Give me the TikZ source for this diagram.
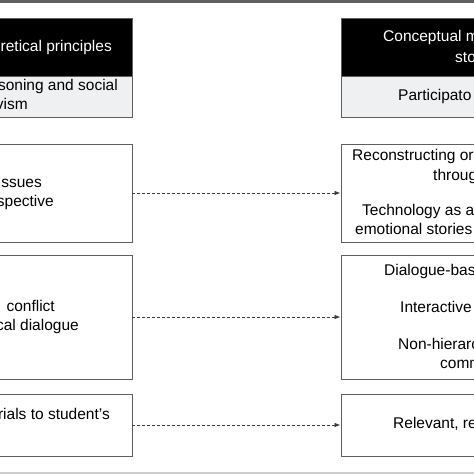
\documentclass[tikz,border=0pt]{standalone}
\usepackage{fontspec}
\setmainfont{Liberation Sans}
\usepackage{tikz}
\usetikzlibrary{arrows.meta,positioning}
\definecolor{boxgray}{RGB}{95,95,95}
\definecolor{subgray}{RGB}{238,240,241}
\definecolor{linkgray}{RGB}{60,60,60}
\definecolor{topbar}{RGB}{95,95,95}
\definecolor{bottombar}{RGB}{205,205,205}

\begin{document}
\begin{tikzpicture}[x=1pt,y=-1pt,
	headbox/.style={fill=black,draw=boxgray,line width=0.9pt,minimum width=192pt,minimum height=58pt,inner sep=0pt},
	subbox/.style={fill=subgray,draw=boxgray,line width=0.9pt,minimum width=192pt,minimum height=41pt,inner sep=0pt},
	itembox/.style={draw=boxgray,line width=0.9pt,minimum width=192pt,inner sep=0pt},
	txt/.style={inner sep=0pt,font=\fontsize{15.5}{19}\selectfont,text height=11pt,text depth=3pt},
	link/.style={draw=linkgray,line width=0.8pt,dash pattern=on 3pt off 2pt,-{Latex[length=6pt,width=4.5pt]}}]
			\useasboundingbox (0,0) rectangle (474,474);
			\clip (0,0) rectangle (474,474);
			
			% frame bars
			\fill[topbar] (0,0) rectangle (474,2.5);
			\fill[bottombar] (0,471.5) rectangle (474,474);
			
			% left column
			\node[headbox] (lhead) at (36,47) {};
			\node[subbox] (lsub) at (36,96.5) {};
			\node[itembox,minimum height=98pt] (lone) at (36,193) {};
			\node[itembox,minimum height=124pt] (ltwo) at (36,317) {};
			\node[itembox,minimum height=62pt] (lthree) at (36,425) {};
			
			% right column
			\node[headbox] (rhead) at (437,47) {};
			\node[subbox] (rsub) at (437,96.5) {};
			\node[itembox,minimum height=98pt] (rone) at (437,193) {};
			\node[itembox,minimum height=124pt] (rtwo) at (437,317) {};
			\node[itembox,minimum height=62pt] (rthree) at (437,425) {};
			
			% left texts
			\node[txt,anchor=east,text=white] (lheadtxt) at (112,47) {retical principles};
			\node[txt,anchor=east] (lsubtxta) at (118,86) {soning and social};
			\node[txt,anchor=east] (lsubtxtb) at (28,105) {vism};
			\node[txt,anchor=east] (lonetxta) at (42,183) {ssues};
			\node[txt,anchor=east] (lonetxtb) at (54,202) {spective};
			\node[txt,anchor=east] (ltwotxta) at (55,307) {conflict};
			\node[txt,anchor=east] (ltwotxtb) at (79,326) {cal dialogue};
			\node[txt,anchor=east] (lthreetxt) at (110,415) {rials to student's};
			
			% right texts
			\node[txt,anchor=west,text=white] (rheadtxta) at (383,37) {Conceptual m};
			\node[txt,anchor=west,text=white] (rheadtxtb) at (455,58) {sto};
			\node[txt,anchor=west] (rsubtxt) at (398,96) {Participato};
			\node[txt,anchor=west] (ronetxta) at (352,156) {Reconstructing or};
			\node[txt,anchor=west] (ronetxtb) at (433,176) {throug};
			\node[txt,anchor=west] (ronetxtc) at (362,211) {Technology as a};
			\node[txt,anchor=west] (ronetxtd) at (355,230) {emotional stories};
			\node[txt,anchor=west] (rtwotxta) at (384,271) {Dialogue-bas};
			\node[txt,anchor=west] (rtwotxtb) at (400,308) {Interactive};
			\node[txt,anchor=west] (rtwotxtc) at (398,345) {Non-hierarc};
			\node[txt,anchor=west] (rtwotxtd) at (440,364) {comm};
			\node[txt,anchor=west] (rthreetxt) at (393,424) {Relevant, rel};
			
			% connectors
			\draw[link] (lone.east) -- (rone.west);
			\draw[link] (ltwo.east) -- (rtwo.west);
			\draw[link] (lthree.east) -- (rthree.west);
			
		\end{tikzpicture}
\end{document}
